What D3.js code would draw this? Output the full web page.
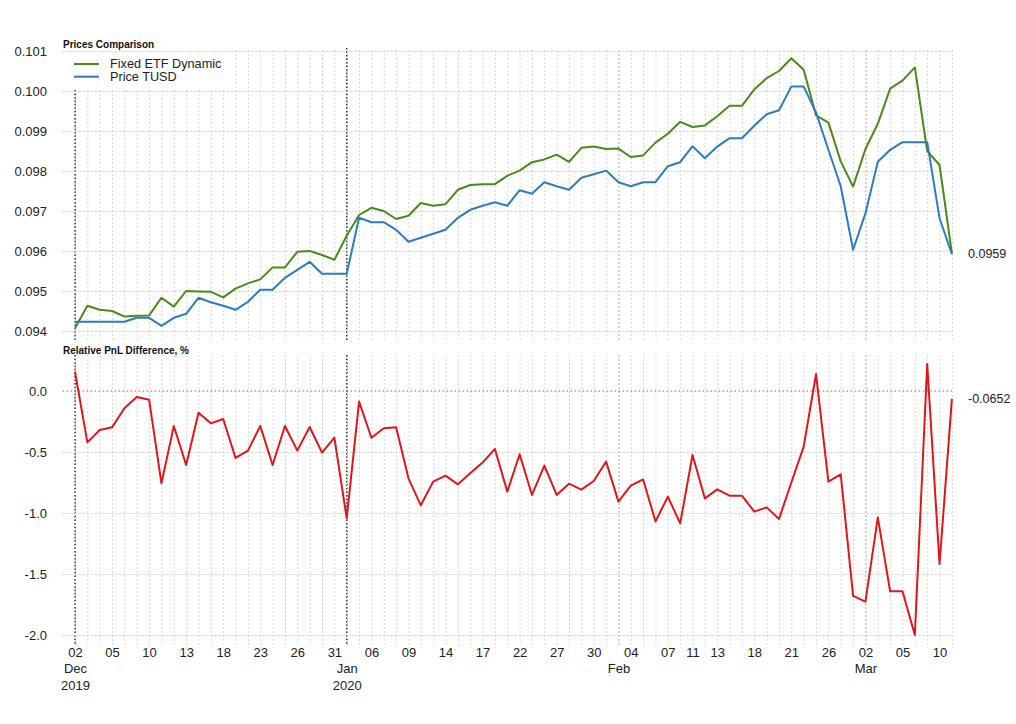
<!DOCTYPE html>
<html>
<head>
<meta charset="utf-8">
<script src="https://cdn.jsdelivr.net/npm/d3@7"></script>
<style>
  body { margin: 0; background: #fff; }
  svg { font-family: "Liberation Sans", Arial, sans-serif; }
  .tick text { fill: #222; font-size: 13px; }
  .domain { display: none; }
</style>
</head>
<body>
<div id="root"></div>
<script>
// trading days shown on the x axis
const dates = [
  "2019-12-02","2019-12-03","2019-12-04","2019-12-05","2019-12-06","2019-12-09","2019-12-10","2019-12-11",
  "2019-12-12","2019-12-13","2019-12-16","2019-12-17","2019-12-18","2019-12-19","2019-12-20","2019-12-23",
  "2019-12-24","2019-12-25","2019-12-26","2019-12-27","2019-12-30","2019-12-31",
  "2020-01-02","2020-01-03","2020-01-06","2020-01-07","2020-01-08","2020-01-09","2020-01-10","2020-01-13",
  "2020-01-14","2020-01-15","2020-01-16","2020-01-17","2020-01-20","2020-01-21","2020-01-22","2020-01-23",
  "2020-01-24","2020-01-27","2020-01-28","2020-01-29","2020-01-30","2020-01-31",
  "2020-02-03","2020-02-04","2020-02-05","2020-02-06","2020-02-07","2020-02-10","2020-02-11","2020-02-12",
  "2020-02-13","2020-02-14","2020-02-17","2020-02-18","2020-02-19","2020-02-20","2020-02-21","2020-02-24",
  "2020-02-25","2020-02-26","2020-02-27","2020-02-28",
  "2020-03-02","2020-03-03","2020-03-04","2020-03-05","2020-03-06","2020-03-09","2020-03-10","2020-03-11"
]

const fixedEtf = [
  0.09407,0.09463,0.09453,0.0945,0.09436,0.09438,0.09439,0.09483,0.09461,0.0950,
  0.09499,0.09498,0.09484,0.09506,0.09519,0.09529,0.09559,0.09559,0.09598,0.0960,
  0.0959,0.09578,0.09638,0.0969,0.09708,0.0970,0.0968,0.09688,0.0972,0.09713,
  0.09717,0.09753,0.09765,0.09767,0.09767,0.09788,0.09801,0.09822,0.09829,0.09841,
  0.09823,0.09858,0.09861,0.09855,0.09856,0.09835,0.09839,0.09871,0.09893,0.09923,
  0.0991,0.09914,0.09937,0.09963,0.09963,0.10004,0.10032,0.1005,0.10082,0.10053,
  0.09939,0.09921,0.09824,0.09761,0.09855,0.09918,0.10006,0.10026,0.10059,0.09850,
  0.09815,0.09594
]

const priceTusd = [
  0.09423,0.09423,0.09423,0.09423,0.09423,0.09433,0.09433,0.09413,0.09433,0.09443,
  0.09483,0.09472,0.09463,0.09453,0.09473,0.09503,0.09503,0.09533,0.09553,0.09573,
  0.09543,0.09543,0.09543,0.09683,0.09672,0.09672,0.09653,0.09623,0.09633,0.09643,
  0.09653,0.09683,0.09703,0.09713,0.09722,0.09713,0.09752,0.09743,0.09772,0.09762,
  0.09753,0.09783,0.09792,0.09801,0.09772,0.09762,0.09772,0.09772,0.09812,0.09822,
  0.09862,0.09832,0.09861,0.09882,0.09882,0.09913,0.09942,0.09952,0.10011,0.10011,
  0.09946,0.09853,0.09762,0.09603,0.09694,0.09823,0.09853,0.09872,0.09872,0.09872,
  0.09682,0.09592
]

const pnlDiff = [
  0.158,-0.421,-0.32,-0.298,-0.142,-0.049,-0.071,-0.757,-0.287,-0.607,
  -0.178,-0.265,-0.23,-0.549,-0.489,-0.287,-0.607,-0.287,-0.489,-0.295,
  -0.505,-0.383,-1.044,-0.087,-0.383,-0.306,-0.298,-0.716,-0.937,-0.743,
  -0.694,-0.765,-0.675,-0.587,-0.475,-0.825,-0.519,-0.852,-0.612,-0.852,
  -0.76,-0.809,-0.738,-0.579,-0.907,-0.776,-0.725,-1.07,-0.866,-1.085,
  -0.525,-0.88,-0.806,-0.858,-0.858,-0.989,-0.954,-1.049,-0.75,-0.456,
  0.139,-0.743,-0.683,-1.68,-1.727,-1.036,-1.642,-1.642,-2.0,0.221,
  -1.418,-0.0652
]

const dayTicks = ["2019-12-02","2019-12-05","2019-12-10","2019-12-13","2019-12-18","2019-12-23","2019-12-26",
  "2019-12-31","2020-01-06","2020-01-09","2020-01-14","2020-01-17","2020-01-22","2020-01-27","2020-01-30",
  "2020-02-04","2020-02-07","2020-02-11","2020-02-13","2020-02-18","2020-02-21","2020-02-26",
  "2020-03-02","2020-03-05","2020-03-10"]
const monthTicks = ["2019-12-02","2020-01-02","2020-02-03","2020-03-02"]
const yearTicks = ["2019-12-02","2020-01-02"]
const priceTicks = [0.094,0.095,0.096,0.097,0.098,0.099,0.100,0.101]
const pnlTicks = [0.0,-0.5,-1.0,-1.5,-2.0]

const w = 1016, h = 724
const left = 62.65, right = 951.9
const top1 = 48, bot1 = 340, top2 = 355, bot2 = 645

const parse = d3.timeParse("%Y-%m-%d")
const idx = s => dates.indexOf(s)
// plain hyphen for negatives, like the original
const fmt = d3.formatLocale({decimal: ".", thousands: ",", grouping: [3], currency: ["", ""], minus: "-"}).format

//scales
const x = d3.scaleLinear().domain([-1, dates.length - 1]).range([left, right])
const yPrice = d3.scaleLinear().domain([0.093775, 0.101075]).range([bot1, top1])
const yPnl = d3.scaleLinear().domain([-2.082, 0.295]).range([bot2, top2])

const svg = d3.select("#root").append("svg")
    .attr("width", w)
    .attr("height", h)

svg.append("rect").attr("width", w).attr("height", h).attr("fill", "#fff")

function vGrid(y0, y1) {
    const g = svg.append("g").attr("transform", `translate(0,${y1})`)
        .call(d3.axisBottom(x).tickValues(d3.range(dates.length)).tickSize(-(y1 - y0)).tickFormat(""))
    g.selectAll(".tick line")
        .attr("stroke", d => monthTicks.map(idx).includes(d) ? "#aaa" : "#d6d6d6")
        .attr("stroke-dasharray", "2,2")
    return g
}

function hGrid(scale, ticks) {
    const g = svg.append("g").attr("transform", `translate(${left},0)`)
        .call(d3.axisLeft(scale).tickValues(ticks).tickSize(-(right - left)).tickFormat(""))
    g.selectAll(".tick line")
        .attr("stroke", "#cfcfcf")
        .attr("stroke-dasharray", "2,2")
    return g
}

// vertical grids
vGrid(top1, bot1)
vGrid(top2, bot2)

// year boundaries
yearTicks.forEach(s => {
    [[top1, bot1], [top2, bot2]].forEach(([a, b]) => {
        svg.append("line")
            .attr("x1", x(idx(s))).attr("x2", x(idx(s)))
            .attr("y1", a).attr("y2", b)
            .attr("stroke", "#222").attr("stroke-width", 1.2)
            .attr("stroke-dasharray", "1.5,2")
    })
})

// legend box covers the vertical grid
svg.append("rect")
    .attr("x", left).attr("y", top1)
    .attr("width", 170).attr("height", 41)
    .attr("fill", "#fff")

// horizontal grids
hGrid(yPrice, priceTicks)
hGrid(yPnl, pnlTicks.filter(d => d !== 0))

// zero line
svg.append("line")
    .attr("x1", left).attr("x2", right)
    .attr("y1", yPnl(0)).attr("y2", yPnl(0))
    .attr("stroke", "#e0393b").attr("stroke-width", 1.2)
    .attr("stroke-dasharray", "1.5,2.5")

// lines
const linePrice = d3.line().x((d, i) => x(i)).y(d => yPrice(d))
const linePnl = d3.line().x((d, i) => x(i)).y(d => yPnl(d))

svg.append("path").datum(fixedEtf)
    .attr("d", linePrice).attr("fill", "none")
    .attr("stroke", "#4a8a1d").attr("stroke-width", 2).attr("stroke-linejoin", "round")

svg.append("path").datum(priceTusd)
    .attr("d", linePrice).attr("fill", "none")
    .attr("stroke", "#2f7bbf").attr("stroke-width", 2).attr("stroke-linejoin", "round")

svg.append("path").datum(pnlDiff)
    .attr("d", linePnl).attr("fill", "none")
    .attr("stroke", "#e0161b").attr("stroke-width", 2).attr("stroke-linejoin", "round")

// y axes
svg.append("g").attr("transform", "translate(47,0)")
    .call(d3.axisLeft(yPrice).tickValues(priceTicks).tickSize(0).tickPadding(0).tickFormat(fmt(".3f")))
svg.append("g").attr("transform", "translate(47,0)")
    .call(d3.axisLeft(yPnl).tickValues(pnlTicks).tickSize(0).tickPadding(0).tickFormat(fmt(".1f")))

// x axis: days, months, years
const fDay = d3.timeFormat("%d"), fMonth = d3.timeFormat("%b"), fYear = d3.timeFormat("%Y")
svg.append("g").attr("transform", `translate(0,${bot2})`)
    .call(d3.axisBottom(x).tickValues(dayTicks.map(idx)).tickSize(0).tickPadding(3)
        .tickFormat(i => fDay(parse(dates[i]))))
svg.append("g").attr("transform", `translate(0,${bot2 + 16})`)
    .call(d3.axisBottom(x).tickValues(monthTicks.map(idx)).tickSize(0).tickPadding(3)
        .tickFormat(i => fMonth(parse(dates[i]))))
svg.append("g").attr("transform", `translate(0,${bot2 + 33})`)
    .call(d3.axisBottom(x).tickValues(yearTicks.map(idx)).tickSize(0).tickPadding(3)
        .tickFormat(i => fYear(parse(dates[i]))))

// titles
svg.append("text").attr("x", 63).attr("y", 48)
    .attr("font-size", 10).attr("font-weight", "bold").attr("fill", "#111")
    .text("Prices Comparison")
svg.append("text").attr("x", 63).attr("y", 354)
    .attr("font-size", 10).attr("font-weight", "bold").attr("fill", "#111")
    .text("Relative PnL Difference, %")

// legend
const legend = svg.append("g")
const items = [["Fixed ETF Dynamic", "#4a8a1d"], ["Price TUSD", "#2f7bbf"]]
items.forEach(([name, c], k) => {
    const yy = 64 + k * 12.7
    legend.append("line").attr("x1", 74).attr("x2", 99).attr("y1", yy).attr("y2", yy)
        .attr("stroke", c).attr("stroke-width", 2)
    legend.append("text").attr("x", 110).attr("y", yy).attr("dy", "0.35em")
        .attr("font-size", 12.7).attr("fill", "#222").text(name)
})

// last values
const lastI = dates.length - 1
svg.append("text").attr("x", 968).attr("y", yPrice(fixedEtf[lastI])).attr("dy", "0.35em")
    .attr("font-size", 12.5).attr("fill", "#222").text(fmt(".4f")(fixedEtf[lastI]))
svg.append("text").attr("x", 968).attr("y", yPnl(pnlDiff[lastI])).attr("dy", "0.35em")
    .attr("font-size", 12.5).attr("fill", "#222").text(fmt(".4f")(pnlDiff[lastI]))
</script>
</body>
</html>
